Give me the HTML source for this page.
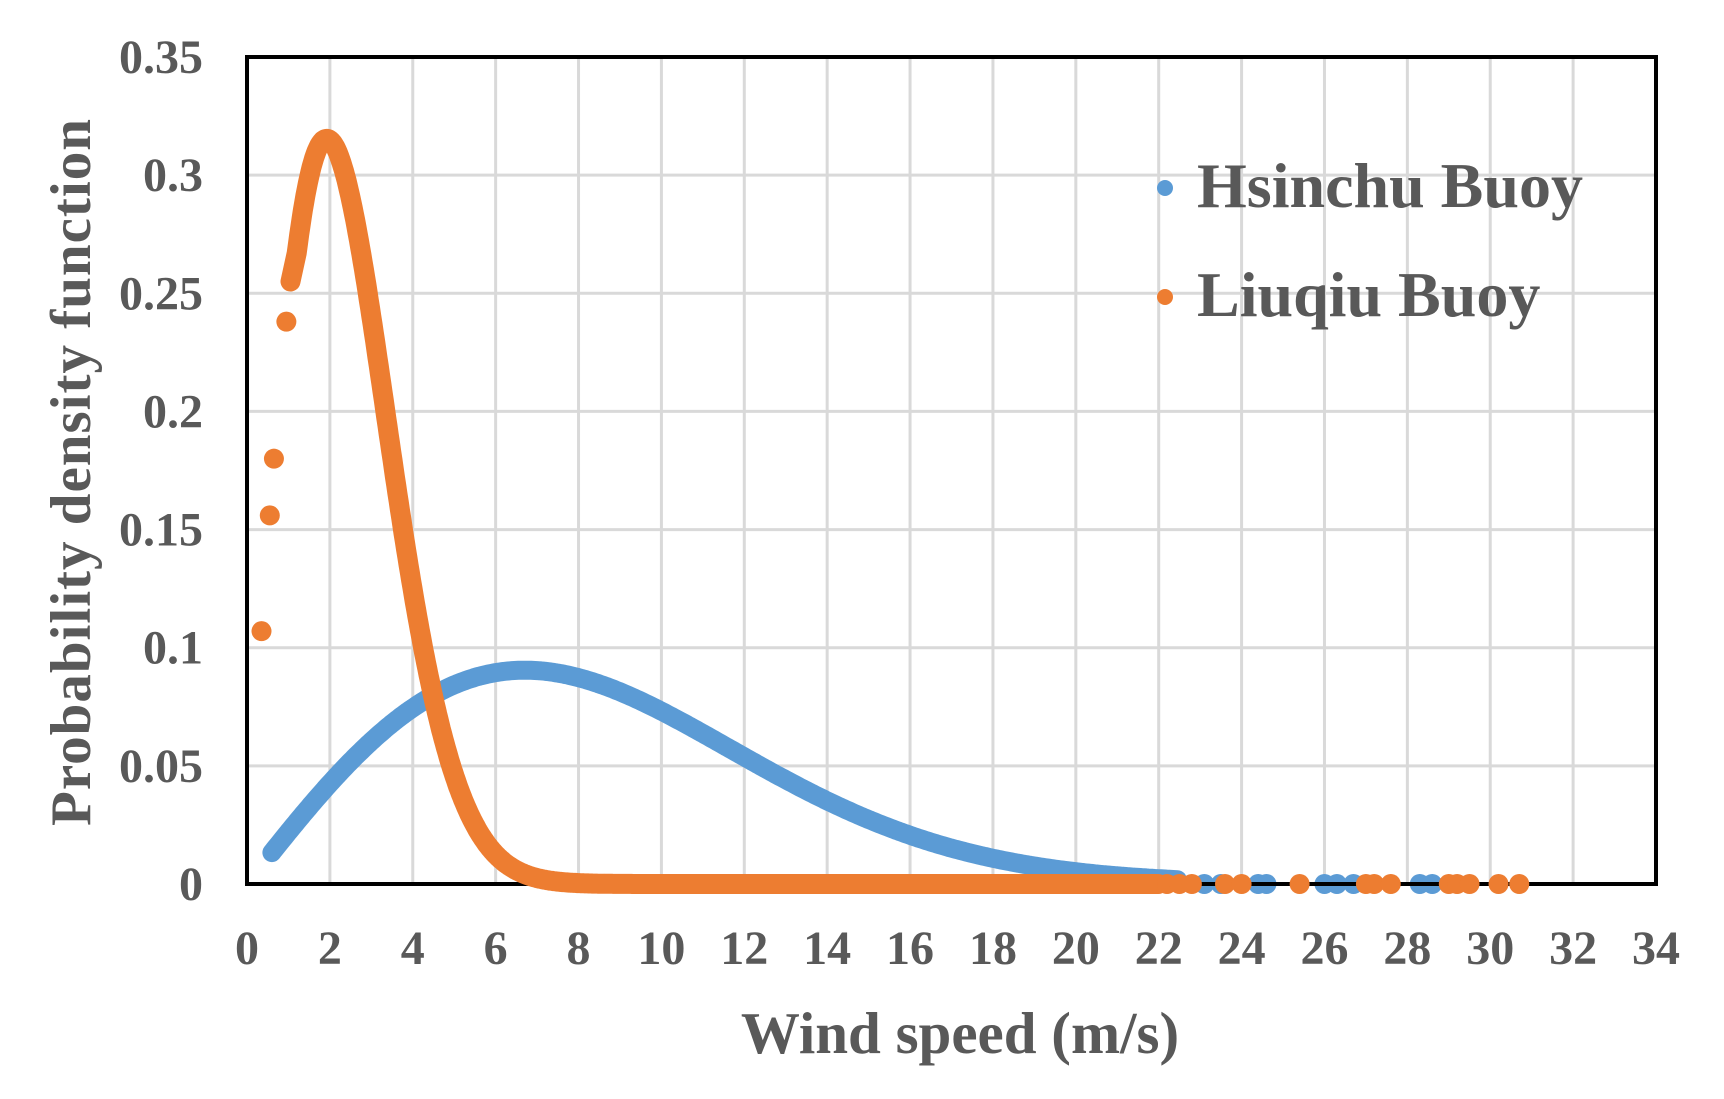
<!DOCTYPE html>
<html><head><meta charset="utf-8"><style>
html,body{margin:0;padding:0;background:#fff;}
svg{display:block;}
text{font-family:"Liberation Serif",serif;font-weight:bold;fill:#595959;}
</style></head><body>
<svg id="s" width="1724" height="1099" viewBox="0 0 1724 1099" xmlns="http://www.w3.org/2000/svg">
<g id="grid" stroke="#d9d9d9" stroke-width="3"></g>
<g id="ticks" font-size="48"></g>
<path id="blue" fill="none" stroke="#5B9BD5" stroke-width="19" stroke-linecap="round" stroke-linejoin="round"/>
<g id="bdots" fill="#5B9BD5"></g>
<rect x="247" y="57" width="1409" height="827" fill="none" stroke="#000" stroke-width="4"/>
<path id="orange" fill="none" stroke="#ED7D31" stroke-width="20" stroke-linecap="round" stroke-linejoin="round"/>
<g id="odots" fill="#ED7D31"></g>
<circle cx="1165" cy="188" r="8" fill="#5B9BD5"/>
<text x="1197" y="207" font-size="64">Hsinchu Buoy</text>
<circle cx="1165" cy="297" r="8" fill="#ED7D31"/>
<text x="1197" y="316" font-size="64">Liuqiu Buoy</text>
<text x="960" y="1053" font-size="59" text-anchor="middle">Wind speed (m/s)</text>
<text transform="translate(90,472) rotate(-90)" font-size="57" text-anchor="middle" letter-spacing="1">Probability density function</text>
</svg>
<script>
var L=247,R=1656,T=57,B=884;
function X(v){return L+v*(R-L)/34;}
function Y(v){return B-v*(B-T)/0.35;}
var ns="http://www.w3.org/2000/svg";
function el(p,t,a,txt){var e=document.createElementNS(ns,t);for(var k in a)e.setAttribute(k,a[k]);if(txt!=null)e.textContent=txt;document.getElementById(p).appendChild(e);}
for(var i=1;i<17;i++)el("grid","line",{x1:X(2*i),x2:X(2*i),y1:T,y2:B});
for(var j=1;j<7;j++)el("grid","line",{x1:L,x2:R,y1:Y(0.05*j),y2:Y(0.05*j)});
var yl=["0","0.05","0.1","0.15","0.2","0.25","0.3","0.35"];
for(var j=0;j<8;j++)el("ticks","text",{x:203,y:Y(0.05*j)+16,"text-anchor":"end"},yl[j]);
for(var i=0;i<=17;i++)el("ticks","text",{x:X(2*i),y:964,"text-anchor":"middle"},String(2*i));
function ray(x,c){return 2*x/(c*c)*Math.exp(-(x/c)*(x/c));}
var d="";for(var x=0.6;x<=22.5;x+=0.05){d+=(d?"L":"M")+X(x).toFixed(1)+","+Y(ray(x,9.48)).toFixed(1);}
document.getElementById("blue").setAttribute("d",d);
d="M"+X(1.05).toFixed(1)+","+Y(0.255).toFixed(1);for(var x=1.2;x<=22;x+=0.03){d+="L"+X(x).toFixed(1)+","+Y(ray(x,2.72)).toFixed(1);}
document.getElementById("orange").setAttribute("d",d);
[23.1,23.5,24.4,24.6,26.0,26.3,26.7,28.3,28.6].forEach(function(v){el("bdots","circle",{cx:X(v),cy:B,r:10});});
[[0.35,0.107],[0.55,0.156],[0.65,0.18],[0.95,0.238]].forEach(function(p){el("odots","circle",{cx:X(p[0]),cy:Y(p[1]),r:10});});
[22.2,22.5,22.8,23.6,24.0,25.4,27.0,27.2,27.6,29.0,29.2,29.5,30.2,30.7].forEach(function(v){el("odots","circle",{cx:X(v),cy:B,r:10});});
</script>
</body></html>
